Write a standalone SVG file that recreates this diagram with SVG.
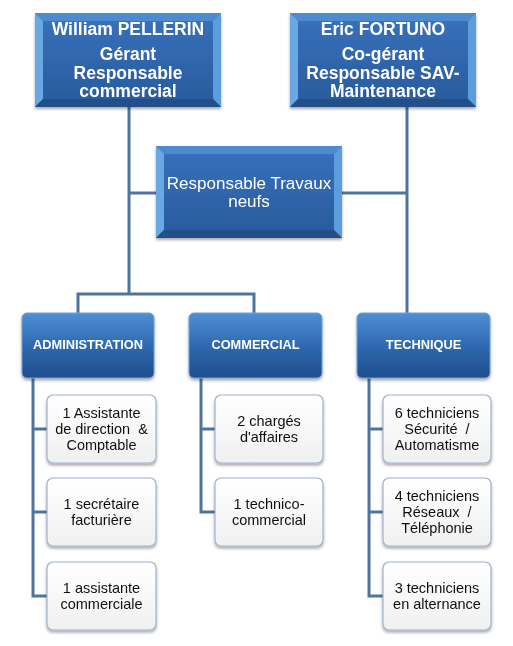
<svg xmlns="http://www.w3.org/2000/svg" width="513" height="646" viewBox="0 0 513 646">
<defs>
<linearGradient id="gInner" x1="0" y1="0" x2="0" y2="1">
<stop offset="0" stop-color="#3872bc"/>
<stop offset="1" stop-color="#285a9c"/>
</linearGradient>
<linearGradient id="gL2" x1="0" y1="0" x2="0" y2="1">
<stop offset="0" stop-color="#4f8fd4"/>
<stop offset="0.5" stop-color="#2f69b0"/>
<stop offset="1" stop-color="#1f4e8c"/>
</linearGradient>
<linearGradient id="gChild" x1="0" y1="0" x2="0" y2="1">
<stop offset="0" stop-color="#ffffff"/>
<stop offset="1" stop-color="#f0f0f0"/>
</linearGradient>
<filter id="sh" x="-10%" y="-10%" width="120%" height="130%">
<feDropShadow dx="0" dy="2" stdDeviation="1.5" flood-color="#000" flood-opacity="0.35"/>
</filter>
</defs>
<style>
.conn{stroke:#4f74a0;stroke-width:3;fill:none}
.bevT{fill:#4d8bd0}
.bevL{fill:#6aa8e4}
.bevR{fill:#5b9ddc}
.bevB{fill:#214f88}
.tb{font-family:"Liberation Sans",Arial,sans-serif;font-weight:bold;font-size:17.5px;fill:#fff;text-anchor:middle}
.tm{font-family:"Liberation Sans",Arial,sans-serif;font-size:17px;fill:#fff;text-anchor:middle}
.l2{fill:url(#gL2);stroke:#6f9fd6;stroke-width:1}
.l2t{font-family:"Liberation Sans",Arial,sans-serif;font-weight:bold;font-size:12.8px;fill:#fff;text-anchor:middle}
.ch{fill:url(#gChild);stroke:#9fb3cb;stroke-width:1.2}
.ct{font-family:"Liberation Sans",Arial,sans-serif;font-size:14.5px;fill:#111;text-anchor:middle}
</style>
<rect width="513" height="646" fill="#fff"/>

<g id="connectors">
<path class="conn" d="M129 107 V294 M78 313 V294 H254 V313"/>
<path class="conn" d="M407 107 V313"/>
<path class="conn" d="M129 193 H156 M342 193 H407"/>
<path class="conn" d="M33 378 V596 H47 M33 429 H47 M33 512 H47"/>
<path class="conn" d="M201 378 V512 H215 M201 429 H215"/>
<path class="conn" d="M369 378 V596 H383 M369 429 H383 M369 512 H383"/>
</g>

<g id="william" filter="url(#sh)">
<rect x="35" y="13" width="186" height="94" fill="url(#gInner)"/>
<polygon class="bevT" points="35,13 221,13 213,21 43,21"/>
<polygon class="bevL" points="35,13 43,21 43,99 35,107"/>
<polygon class="bevR" points="221,13 221,107 213,99 213,21"/>
<polygon class="bevB" points="35,107 43,99 213,99 221,107"/>
<text class="tb" x="128" y="35">William PELLERIN</text>
<text class="tb" x="128" y="60">Gérant</text>
<text class="tb" x="128" y="78.5">Responsable</text>
<text class="tb" x="128" y="97">commercial</text>
</g>

<g id="eric" filter="url(#sh)">
<rect x="290" y="13" width="186" height="94" fill="url(#gInner)"/>
<polygon class="bevT" points="290,13 476,13 468,21 298,21"/>
<polygon class="bevL" points="290,13 298,21 298,99 290,107"/>
<polygon class="bevR" points="476,13 476,107 468,99 468,21"/>
<polygon class="bevB" points="290,107 298,99 468,99 476,107"/>
<text class="tb" x="383" y="35">Eric FORTUNO</text>
<text class="tb" x="383" y="60">Co-gérant</text>
<text class="tb" x="383" y="78.5">Responsable SAV-</text>
<text class="tb" x="383" y="97">Maintenance</text>
</g>

<g id="travaux" filter="url(#sh)">
<rect x="156" y="146" width="186" height="92" fill="url(#gInner)"/>
<polygon class="bevT" points="156,146 342,146 334,154 164,154"/>
<polygon class="bevL" points="156,146 164,154 164,230 156,238"/>
<polygon class="bevR" points="342,146 342,238 334,230 334,154"/>
<polygon class="bevB" points="156,238 164,230 334,230 342,238"/>
<text class="tm" x="249" y="189">Responsable Travaux</text>
<text class="tm" x="249" y="207">neufs</text>
</g>

<g id="administration" filter="url(#sh)">
<rect class="l2" x="22" y="313" width="132" height="65" rx="5"/>
<text class="l2t" x="88" y="349">ADMINISTRATION</text>
</g>
<g id="commercial" filter="url(#sh)">
<rect class="l2" x="189" y="313" width="133" height="65" rx="5"/>
<text class="l2t" x="255.5" y="349">COMMERCIAL</text>
</g>
<g id="technique" filter="url(#sh)">
<rect class="l2" x="357" y="313" width="133" height="65" rx="5"/>
<text class="l2t" x="423.5" y="349">TECHNIQUE</text>
</g>

<g id="assistante-direction" filter="url(#sh)">
<rect class="ch" x="47" y="395" width="109" height="68" rx="6"/>
<text class="ct" x="101.5" y="418" xml:space="preserve">1 Assistante</text>
<text class="ct" x="101.5" y="434" xml:space="preserve">de direction  &amp;</text>
<text class="ct" x="101.5" y="449.5">Comptable</text>
</g>
<g id="secretaire" filter="url(#sh)">
<rect class="ch" x="47" y="478" width="109" height="68" rx="6"/>
<text class="ct" x="101.5" y="509">1 secrétaire</text>
<text class="ct" x="101.5" y="525">facturière</text>
</g>
<g id="assistante-commerciale" filter="url(#sh)">
<rect class="ch" x="47" y="562" width="109" height="68" rx="6"/>
<text class="ct" x="101.5" y="593">1 assistante</text>
<text class="ct" x="101.5" y="609">commerciale</text>
</g>

<g id="charges-affaires" filter="url(#sh)">
<rect class="ch" x="215" y="395" width="108" height="68" rx="6"/>
<text class="ct" x="269" y="426">2 chargés</text>
<text class="ct" x="269" y="442">d'affaires</text>
</g>
<g id="technico-commercial" filter="url(#sh)">
<rect class="ch" x="215" y="478" width="108" height="68" rx="6"/>
<text class="ct" x="269" y="509">1 technico-</text>
<text class="ct" x="269" y="525">commercial</text>
</g>

<g id="tech-securite" filter="url(#sh)">
<rect class="ch" x="383" y="395" width="108" height="68" rx="6"/>
<text class="ct" x="437" y="418">6 techniciens</text>
<text class="ct" x="437" y="434" xml:space="preserve">Sécurité  /</text>
<text class="ct" x="437" y="449.5">Automatisme</text>
</g>
<g id="tech-reseaux" filter="url(#sh)">
<rect class="ch" x="383" y="478" width="108" height="68" rx="6"/>
<text class="ct" x="437" y="501">4 techniciens</text>
<text class="ct" x="437" y="517" xml:space="preserve">Réseaux  /</text>
<text class="ct" x="437" y="532.5">Téléphonie</text>
</g>
<g id="tech-alternance" filter="url(#sh)">
<rect class="ch" x="383" y="562" width="108" height="68" rx="6"/>
<text class="ct" x="437" y="593">3 techniciens</text>
<text class="ct" x="437" y="609">en alternance</text>
</g>
</svg>
